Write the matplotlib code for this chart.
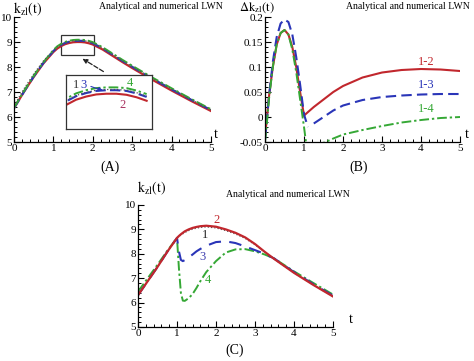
import matplotlib
matplotlib.use("Agg")
import matplotlib.pyplot as plt
import matplotlib.patches as patches
from matplotlib.ticker import MultipleLocator
import numpy as np

plt.rcParams['font.family'] = ['Liberation Serif', 'DejaVu Serif']
plt.rcParams['mathtext.fontset'] = 'stix'

RED = '#c1272d'
BLUE = '#2a35b8'
GREEN = '#35a835'
MAROON = '#a8305e'

# ---- panel A data ----
tA = [0, 0.25, 0.5, 0.75, 1.0, 1.1, 1.2, 1.3, 1.4, 1.5, 1.6, 1.7, 1.8, 1.9, 2.0,
      2.25, 2.5, 2.75, 3.0, 3.5, 4.0, 4.5, 5.0]
kA1 = [6.45, 7.12, 7.72, 8.25, 8.66, 8.8, 8.9, 8.975, 9.02, 9.05, 9.06, 9.06, 9.05, 9.015, 8.965,
       8.76, 8.51, 8.26, 8.02, 7.56, 7.12, 6.7, 6.29]
kA2 = [6.35, 7.0, 7.6, 8.15, 8.6, 8.74, 8.84, 8.915, 8.96, 8.99, 9.0, 9.0, 8.985, 8.95, 8.9,
       8.7, 8.45, 8.2, 7.96, 7.5, 7.06, 6.64, 6.24]
kA3 = [6.35, 7.0, 7.62, 8.17, 8.64, 8.79, 8.89, 8.965, 9.01, 9.04, 9.05, 9.05, 9.04, 9.005, 8.955,
       8.75, 8.5, 8.25, 8.01, 7.55, 7.11, 6.69, 6.28]
kA4 = [6.37, 7.03, 7.65, 8.2, 8.68, 8.83, 8.93, 9.005, 9.05, 9.08, 9.09, 9.09, 9.08, 9.045, 8.995,
       8.79, 8.54, 8.29, 8.05, 7.59, 7.15, 6.72, 6.31]

# ---- panel B data ----
tB_a = [0, 0.05, 0.1, 0.2, 0.3, 0.4, 0.5, 0.6, 0.7, 0.8, 0.9, 1.0]
dk12_a = [-0.04, 0.0, 0.04, 0.10, 0.145, 0.168, 0.174, 0.165, 0.14, 0.10, 0.05, 0.003]
tB12_b = [1.0, 1.25, 1.5, 1.75, 2.0, 2.5, 3.0, 3.5, 4.0, 4.5, 5.0]
dk12_b = [0.003, 0.02, 0.035, 0.05, 0.062, 0.079, 0.089, 0.094, 0.096, 0.095, 0.092]

tB13_a = [0, 0.05, 0.1, 0.2, 0.3, 0.4, 0.5, 0.6, 0.7, 0.8, 0.9, 1.0, 1.1]
dk13_a = [-0.045, -0.005, 0.04, 0.11, 0.16, 0.187, 0.195, 0.19, 0.165, 0.12, 0.065, 0.005, -0.02]
tB13_b = [1.25, 1.5, 1.75, 2.0, 2.5, 3.0, 3.5, 4.0, 4.5, 5.0]
dk13_b = [-0.013, 0.0, 0.013, 0.023, 0.034, 0.04, 0.043, 0.045, 0.046, 0.046]

tB14_a = [0, 0.05, 0.1, 0.2, 0.3, 0.4, 0.5, 0.6, 0.7, 0.8, 0.9, 1.0, 1.05, 1.1]
dk14_a = [-0.05, -0.01, 0.035, 0.10, 0.145, 0.168, 0.174, 0.165, 0.135, 0.09, 0.035, -0.02, -0.05, -0.07]
tB14_b = [1.3, 1.55, 1.75, 2.0, 2.5, 3.0, 3.5, 4.0, 4.5, 5.0]
dk14_b = [-0.058, -0.05, -0.043, -0.035, -0.026, -0.018, -0.011, -0.006, -0.002, 0.0]

# ---- panel C data ----
tC = [0, 0.25, 0.5, 0.75, 1.0, 1.05, 1.1, 1.15, 1.2, 1.3, 1.4, 1.5, 1.6, 1.75, 2.0,
      2.25, 2.5, 2.75, 3.0, 3.25, 3.5, 4.0, 4.5, 5.0]
kC1 = [6.3, 6.88, 7.46, 8.08, 8.65, 8.72, 8.77, 8.82, 8.87, 8.95, 9.01, 9.05, 9.08, 9.1, 9.06,
       8.95, 8.81, 8.63, 8.37, 8.07, 7.78, 7.22, 6.72, 6.25]
kC2 = [6.3, 6.88, 7.46, 8.08, 8.65, 8.73, 8.8, 8.86, 8.92, 9.0, 9.06, 9.1, 9.13, 9.15, 9.11,
       9.0, 8.86, 8.67, 8.4, 8.08, 7.78, 7.22, 6.72, 6.25]
kC3 = [6.3, 6.88, 7.46, 8.08, 8.65, 8.1, 7.75, 7.7, 7.74, 7.85, 7.97, 8.1, 8.2, 8.33, 8.48,
       8.51, 8.44, 8.3, 8.15, 8.0, 7.8, 7.25, 6.75, 6.28]
kC4 = [6.45, 7.0, 7.55, 8.12, 8.65, 7.4, 6.4, 6.08, 6.07, 6.18, 6.35, 6.6, 6.88, 7.25, 7.7,
       8.05, 8.18, 8.19, 8.1, 7.97, 7.8, 7.28, 6.8, 6.33]

TITLE = 'Analytical and numerical LWN'

fig = plt.figure(figsize=(4.74, 3.61), dpi=100)
axA = fig.add_axes([0.0295, 0.6066, 0.4156, 0.3463])
axB = fig.add_axes([0.5591, 0.6066, 0.4114, 0.3463])
axC = fig.add_axes([0.2911, 0.0942, 0.4114, 0.338])


def style(ax, ymaj, ymin):
    for s in ['top', 'right']:
        ax.spines[s].set_visible(False)
    for s in ['left', 'bottom']:
        ax.spines[s].set_linewidth(0.9)
    ax.set_xlim(0, 5)
    ax.xaxis.set_major_locator(MultipleLocator(1))
    ax.xaxis.set_minor_locator(MultipleLocator(0.2))
    ax.yaxis.set_major_locator(MultipleLocator(ymaj))
    ax.yaxis.set_minor_locator(MultipleLocator(ymin))
    ax.tick_params(which='major', direction='in', length=4, width=0.8, labelsize=8, pad=1.5)
    ax.tick_params(which='minor', direction='in', length=2.2, width=0.7)


# panel A
axA.plot(tA, kA2, color=RED, lw=1.6)
axA.plot(tA, kA3, color=BLUE, lw=1.5, ls=(0, (5, 2.5)))
axA.plot(tA, kA4, color=GREEN, lw=1.4, ls=(0, (5, 1.5, 1.2, 1.5)))
axA.plot(tA, kA1, color='#555555', lw=0.9, ls=':')
axA.set_ylim(5, 10)
style(axA, 1, 0.2)
axA.add_patch(patches.Rectangle((1.2, 8.5), 0.82, 0.77, fill=False, lw=0.9, ec='#333333'))
axA.annotate('', xy=(1.68, 8.39), xytext=(2.33, 7.76),
             arrowprops=dict(arrowstyle='-|>', ls='--', lw=0.9, color='#222222',
                             mutation_scale=7))

ins = fig.add_axes([0.1392, 0.6427, 0.1808, 0.1504])
n = 11  # points from t=1.0 to t=2.0
sl = slice(4, 4 + n)
ins.plot(tA[sl], kA2[sl], color=RED, lw=1.5)
ins.plot(tA[sl], kA3[sl], color=BLUE, lw=1.5, ls=(0, (5, 2)))
ins.plot(tA[sl], kA4[sl], color=GREEN, lw=1.4, ls=(0, (5, 1.5, 1.2, 1.5)))
ins.plot(tA[sl], kA1[sl], color='#555555', lw=0.9, ls=':')
ins.set_xlim(1.2, 2.05)
ins.set_ylim(8.5, 9.27)
ins.set_xticks([])
ins.set_yticks([])
for s in ins.spines.values():
    s.set_linewidth(0.9)
    s.set_color('#333333')
ins.text(0.113, 0.805, '1', transform=ins.transAxes, fontsize=9, color='#333333',
         ha='center', va='center')
ins.text(0.2, 0.805, '3', transform=ins.transAxes, fontsize=9, color=BLUE,
         ha='center', va='center')
ins.text(0.746, 0.85, '4', transform=ins.transAxes, fontsize=9, color=GREEN,
         ha='center', va='center')
ins.text(0.662, 0.436, '2', transform=ins.transAxes, fontsize=9, color=MAROON,
         ha='center', va='center')
ins.annotate('', xy=(0.46, 0.69), xytext=(0.26, 0.8), xycoords='axes fraction',
             arrowprops=dict(arrowstyle='-|>', lw=0.8, color=BLUE, mutation_scale=6))

# panel B
axB.plot(tB_a, dk12_a, color=RED, lw=1.5)
axB.plot(tB12_b, dk12_b, color=RED, lw=1.5)
axB.plot(tB13_a, dk13_a, color=BLUE, lw=1.5, ls=(0, (5, 2.5)))
axB.plot(tB13_b, dk13_b, color=BLUE, lw=1.5, ls=(0, (5, 2.5)))
axB.plot(tB14_a, dk14_a, color=GREEN, lw=1.4, ls=(0, (5, 1.5, 1.2, 1.5)))
axB.plot(tB14_b, dk14_b, color=GREEN, lw=1.4, ls=(0, (5, 1.5, 1.2, 1.5)))
axB.set_ylim(-0.05, 0.2)
style(axB, 0.05, 0.01)
axB.yaxis.set_major_formatter(plt.FuncFormatter(lambda v, p: ('%g' % round(v, 3))))
axB.text(4.14, 0.111, '1-2', color=RED, fontsize=9, ha='center', va='center')
axB.text(4.14, 0.064, '1-3', color=BLUE, fontsize=9, ha='center', va='center')
axB.text(4.14, 0.017, '1-4', color=GREEN, fontsize=9, ha='center', va='center')

# panel C
axC.plot(tC, kC4, color=GREEN, lw=1.4, ls=(0, (5, 1.5, 1.2, 1.5)))
axC.plot(tC, kC3, color=BLUE, lw=1.5, ls=(0, (6, 4)))
axC.plot(tC, kC1, color='#555555', lw=0.9, ls=':')
axC.plot(tC, kC2, color=RED, lw=1.6)
axC.set_ylim(5, 10)
style(axC, 1, 0.2)
axC.text(2.02, 9.38, '2', color=RED, fontsize=9, ha='center', va='center')
axC.text(1.72, 8.77, '1', color='#222222', fontsize=9, ha='center', va='center')
axC.text(1.65, 7.88, '3', color='#4040b0', fontsize=9, ha='center', va='center')
axC.text(1.78, 6.93, '4', color=GREEN, fontsize=9, ha='center', va='center')

# titles and axis labels
fig.text(0.470, 0.981, TITLE, fontsize=7, ha='right', va='center')
fig.text(0.992, 0.981, TITLE, fontsize=7, ha='right', va='center')
fig.text(0.738, 0.46, TITLE, fontsize=7, ha='right', va='center')

fig.text(0.027, 0.999, r'$\mathrm{k_{zl}(t)}$', fontsize=10, ha='left', va='top')
fig.text(0.505, 0.999, r'$\mathrm{\Delta k_{zl}(t)}$', fontsize=9, ha='left', va='top')
fig.text(0.289, 0.503, r'$\mathrm{k_{zl}(t)}$', fontsize=10, ha='left', va='top')

fig.text(0.456, 0.628, 't', fontsize=10.5, ha='center', va='center')
fig.text(0.984, 0.628, 't', fontsize=10.5, ha='center', va='center')
fig.text(0.74, 0.114, 't', fontsize=10.5, ha='center', va='center')

fig.text(0.232, 0.537, '(A)', fontsize=10, ha='center', va='center')
fig.text(0.757, 0.537, '(B)', fontsize=10, ha='center', va='center')
fig.text(0.495, 0.03, '(C)', fontsize=10, ha='center', va='center')

fig.savefig('out.png', dpi=100)
